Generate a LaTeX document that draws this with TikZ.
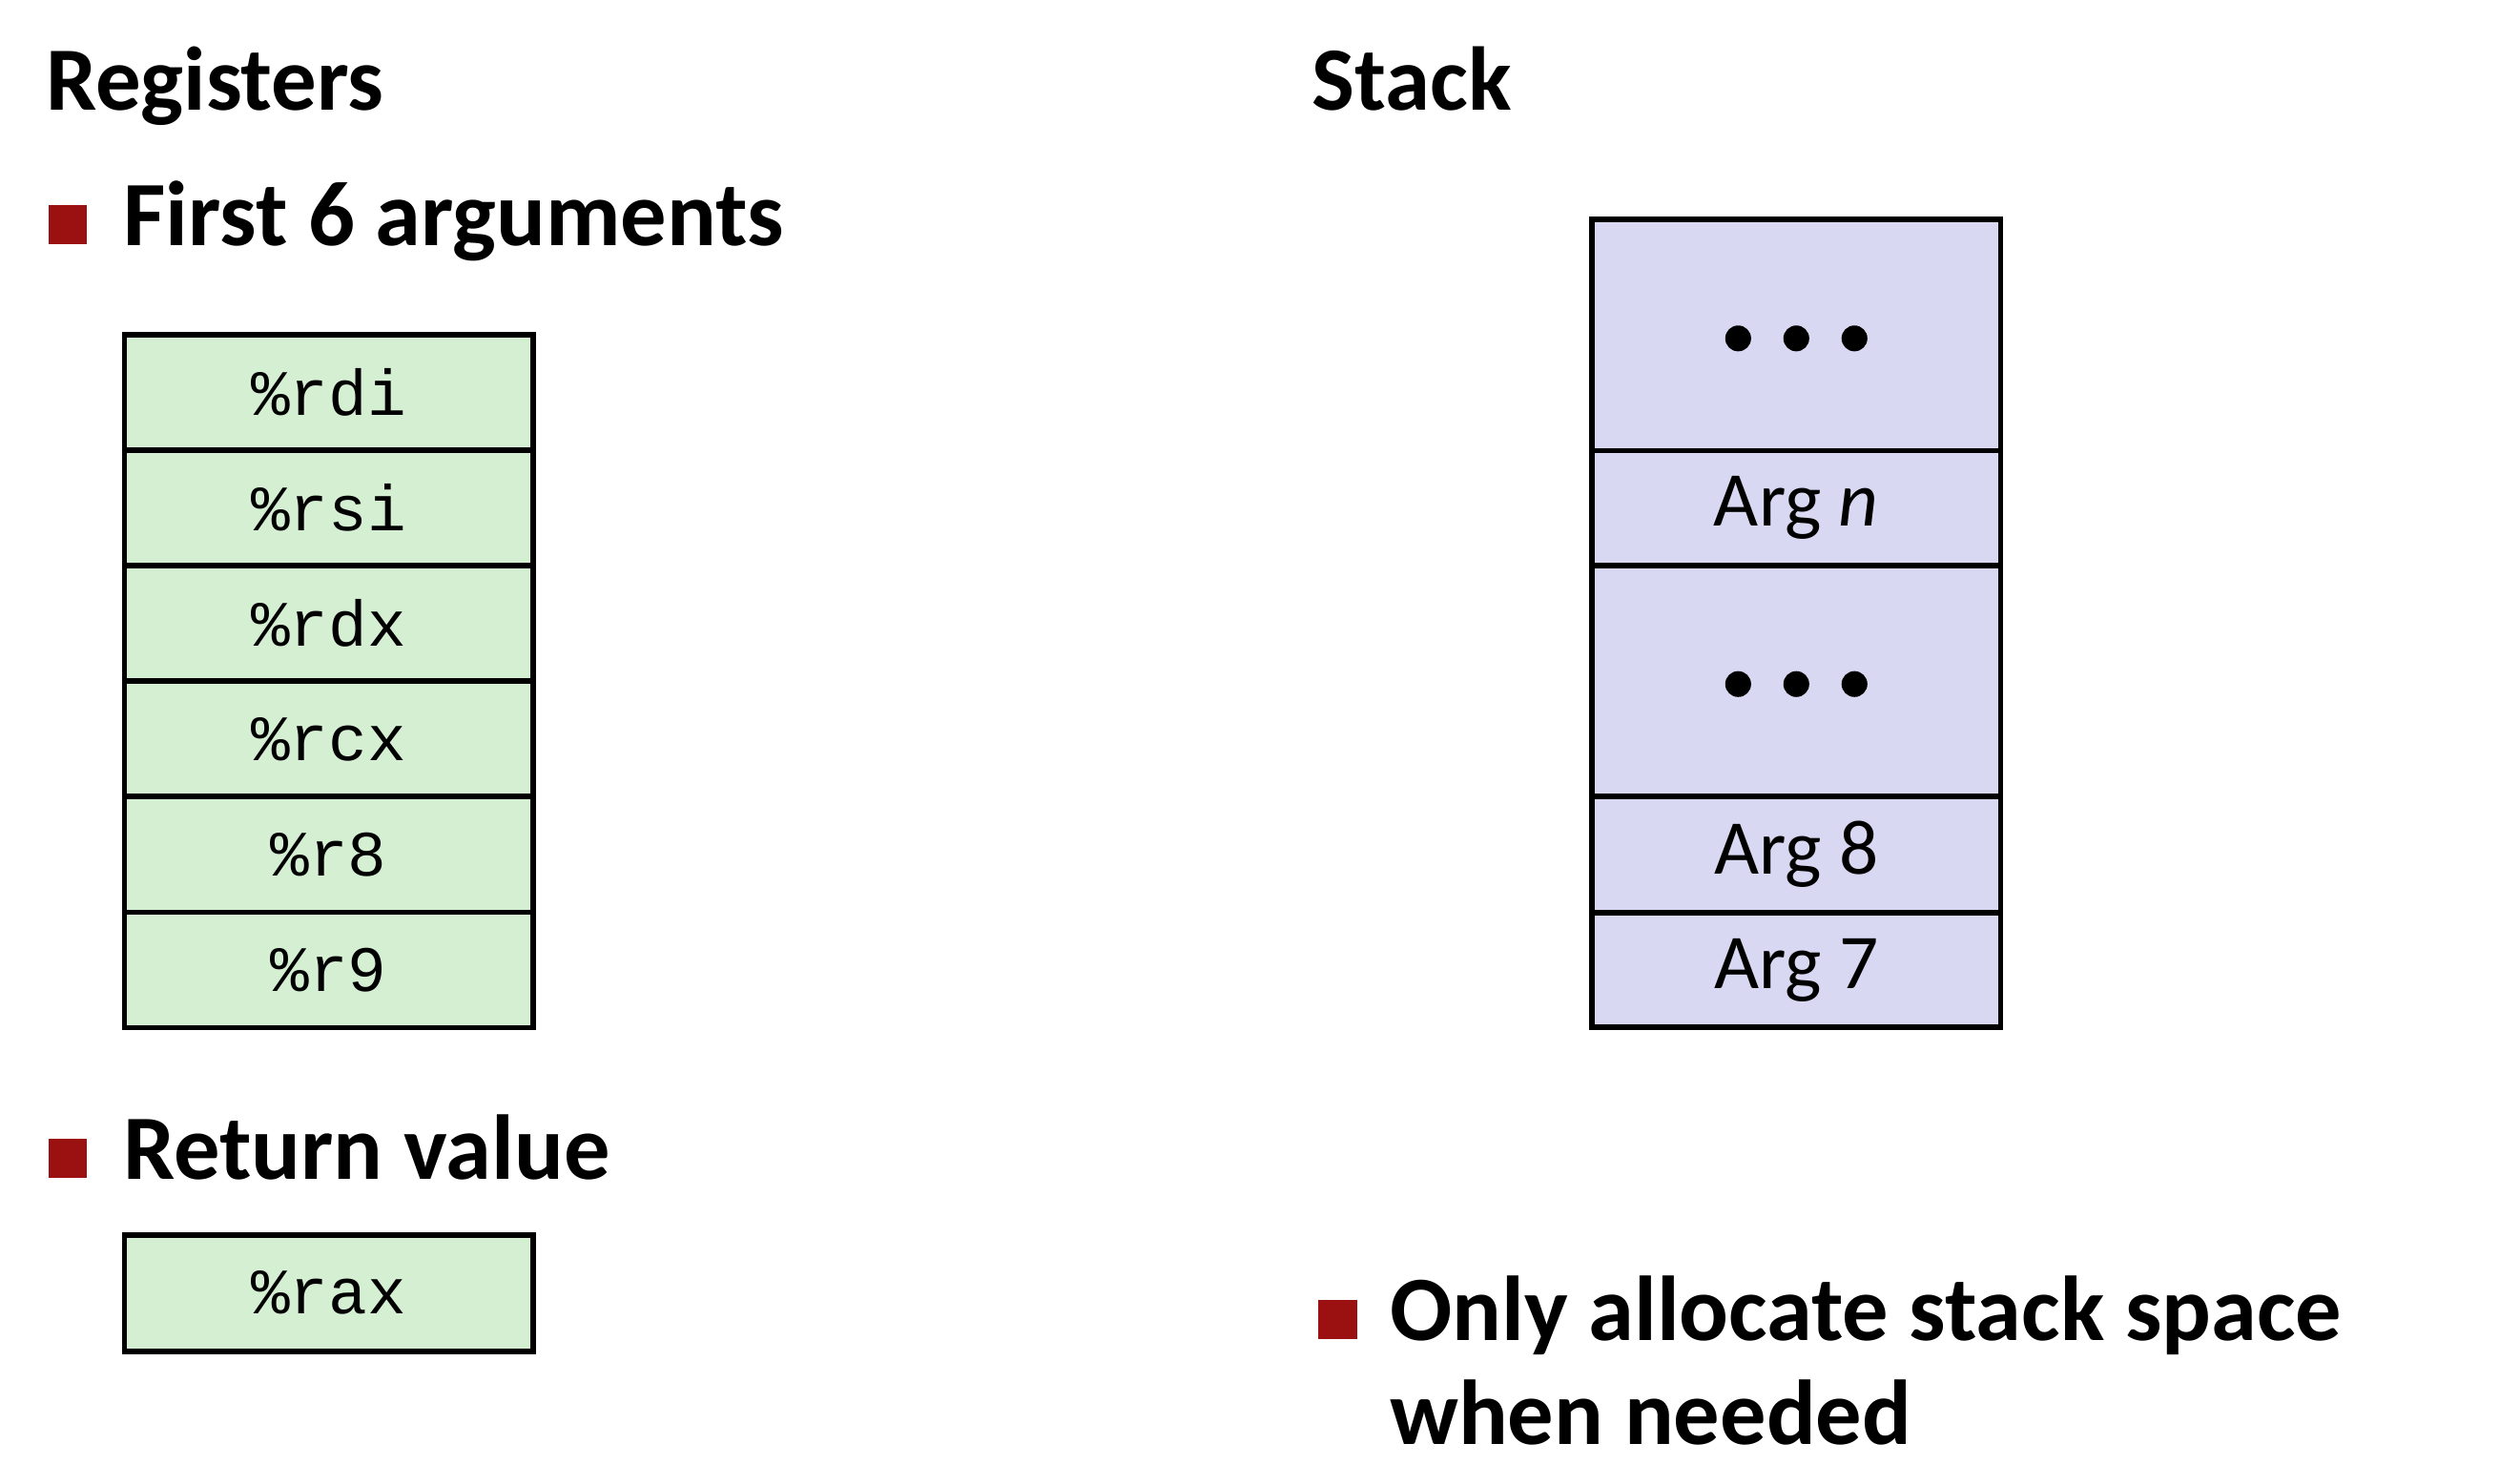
\documentclass[tikz,border=0pt]{standalone}
\usepackage{fontspec}
\setmainfont{Carlito}
\newfontfamily\monof{Liberation Mono}
\definecolor{regg}{HTML}{D5EFD3}
\definecolor{stk}{HTML}{D9D8F3}
\definecolor{bul}{HTML}{9B1111}
\begin{document}
\begin{tikzpicture}[x=0.5pt,y=-0.5pt,
  reg/.style={draw,line width=1.7pt,fill=regg,minimum width=126.5pt,inner sep=0pt,font=\monof\fontsize{20}{20}\selectfont},
  st/.style={draw,line width=1.7pt,fill=stk,minimum width=126.5pt,inner sep=0pt,font=\fontsize{24}{24}\selectfont},
  bullet/.style={fill=bul,minimum size=12pt,inner sep=0pt},
  head/.style={anchor=base west,inner sep=0pt,font=\bfseries\fontsize{28}{28}\selectfont},
  btext/.style={anchor=base west,inner sep=0pt,font=\bfseries\fontsize{28.5}{28.5}\selectfont}]
\useasboundingbox (0,0) rectangle (1560,906);
\node[head] (hreg) at (28,68) {Registers};
\node[head] (hstk) at (812,68) {Stack};
\node[bullet] (b1) at (42,139) {};
\node[btext] (t1) at (76,152) {First 6 arguments};
\node[bullet] (b2) at (42,717) {};
\node[btext] (t2) at (76,730) {Return value};
\node[bullet] (b3) at (828,817) {};
\node[btext] (t3) at (860,830) {Only allocate stack space};
\node[btext] (t3b) at (860,894) {when needed};
\foreach \n/\t [count=\i from 0] in {rdi/\%rdi,rsi/\%rsi,rdx/\%rdx,rcx/\%rcx,r8/\%r8,r9/\%r9}{
  \node[reg,minimum height=35.7pt] (\n) at (203.5,{243+71.5*\i}) {\t};
}
\node[reg,minimum height=36pt] (rax) at (203.5,800.5) {\%rax};
\node[st,minimum height=71.5pt] (s1) at (1112,207.5) {};
\node[st,minimum height=35.5pt] (s2) at (1112,314.5) {Arg \textit{n}};
\node[st,minimum height=71.5pt] (s3) at (1112,421.5) {};
\node[st,minimum height=36pt] (s4) at (1112,529) {Arg 8};
\node[st,minimum height=35.5pt] (s5) at (1112,600.5) {Arg 7};
\foreach \s in {s1,s3}{
  \foreach \dx in {-36,0,36} \fill ([xshift=\dx*0.5pt,yshift=-1pt]\s.center) circle (4pt);
}
\end{tikzpicture}
\end{document}
